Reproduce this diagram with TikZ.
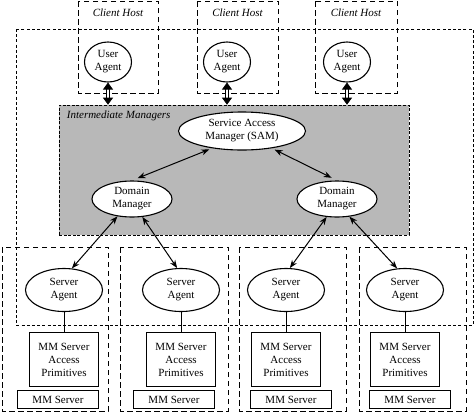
\documentclass[tikz,border=0pt]{standalone}
\usepackage{fontspec}
\setmainfont{Liberation Serif}
\usetikzlibrary{positioning,fit,calc,arrows.meta,shapes.geometric}
\tikzset{outerbox/.style={draw, line width=0.6pt, dash pattern=on 3pt off 2.2pt}}
\tikzset{hostbox/.style={draw, line width=1pt, dash pattern=on 5.5pt off 3.5pt}}
\tikzset{imbox/.style={draw, line width=0.6pt, dash pattern=on 3pt off 1.6pt, fill=black!28, inner sep=0pt}}
\tikzset{hostlabel/.style={font=\fontsize{11}{13}\selectfont\itshape, inner sep=1pt}}
\tikzset{agent/.style={draw, ellipse, line width=1.1pt, fill=white, align=center, inner sep=0pt}}
\tikzset{prim/.style={draw, line width=0.8pt, align=center, minimum width=69, minimum height=54, inner sep=1pt}}
\tikzset{mms/.style={draw, line width=1.6pt, minimum width=81, minimum height=18, inner sep=1pt}}
\tikzset{arr2/.style={draw, line width=1pt, {Stealth[length=8pt,width=6pt]}-{Stealth[length=8pt,width=6pt]}}}
\tikzset{uarr/.style={draw, line width=0.8pt, double, double distance=2.2pt, {Triangle[length=7pt,width=10pt]}-{Triangle[length=7pt,width=10pt]}}}

\begin{document}
\begin{tikzpicture}[x=1pt,y=-1pt,font=\fontsize{11}{13}\selectfont]
			\useasboundingbox (0,0) rectangle (474,413);
			% frames
			\draw[outerbox] (16,29) rectangle (473,325);
			\foreach \i/\xa/\xb in {1/78/158,2/197/278,3/315/397}{
				\draw[hostbox] (\xa,1) rectangle (\xb,93);
				\node[hostlabel] (ch\i) at ({(\xa+\xb)/2},13) {Client Host};
			}
			\foreach \xa/\xb in {2/108,120/228,239/346,359/466}
				\draw[hostbox] (\xa,247) rectangle (\xb,411);
			\node[imbox, minimum width=350, minimum height=130] (im) at (234,170) {};
			\node[hostlabel, anchor=north west] (iml) at ([xshift=7pt,yshift=-5pt]im.north west) {Intermediate Managers};
			%
			\node[agent, minimum width=47, minimum height=40] (ua1) at (108,62) {User\\Agent};
			\node[agent, minimum width=47, minimum height=40] (ua2) at (227,62) {User\\Agent};
			\node[agent, minimum width=47, minimum height=40] (ua3) at (347,62) {User\\Agent};
			\node[agent, minimum width=127, minimum height=38] (sam) at (242,131) {Service Access\\Manager (SAM)};
			\node[agent, minimum width=80, minimum height=36] (dm1) at (132,199) {Domain\\Manager};
			\node[agent, minimum width=80, minimum height=36] (dm2) at (337,199) {Domain\\Manager};
			%
			\foreach \i/\x/\s in {1/64/-6,2/181/-7,3/286/5,4/405/5}{
				\node[agent, minimum width=77, minimum height=43] (sa\i) at (\x,290) {Server\\Agent};
				\node[prim, below=20pt of sa\i] (mp\i) {MM Server\\Access\\Primitives};
				\node[mms, below=3pt of mp\i, xshift=\s] (ms\i) {MM Server};
				\draw[line width=0.8pt] (sa\i.south) -- (mp\i.north);
			}
			%
			\foreach \i in {1,2,3}
				\draw[uarr] (ua\i.south) -- (ua\i |- im.north);
			\draw[arr2, shorten <=6pt, shorten >=3pt] (dm1.north) to (sam.-150);
			\draw[arr2, shorten <=3pt, shorten >=6pt] (sam.-30) to (dm2.north);
			\draw[arr2] (dm1.-130) to (sa1.70);
			\draw[arr2] (dm1.-60) to (sa2.100);
			\draw[arr2] (dm2.-120) to (sa3.80);
			\draw[arr2] (dm2.-55) to (sa4.110);
		\end{tikzpicture}
\end{document}
